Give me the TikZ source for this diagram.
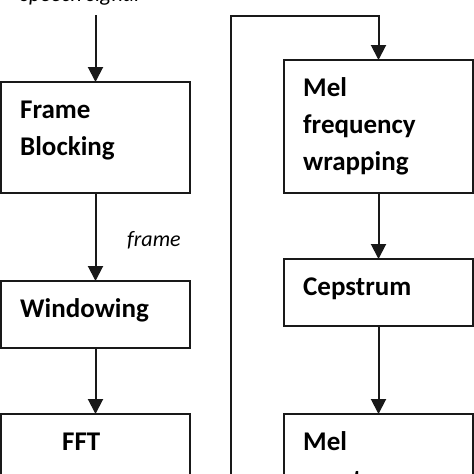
\documentclass[tikz,border=0pt]{standalone}
\usepackage{fontspec}
\setmainfont{Carlito}
\usetikzlibrary{arrows.meta}
\begin{document}
\begin{tikzpicture}[x=1pt,y=-1pt,
  boxst/.style={draw=black!90,line width=2pt,inner sep=0pt,outer sep=0pt,anchor=north west,fill=white},
  lbl/.style={anchor=base west,inner sep=0pt,font=\fontsize{27}{37}\selectfont\bfseries,align=left},
  itl/.style={inner sep=0pt,font=\fontsize{22}{26}\selectfont\itshape},
  arr/.style={line width=2pt,draw=black!90,-{Triangle[width=15pt,length=15pt]}},
  ln/.style={line width=2pt,draw=black!90}]
\useasboundingbox (0,0) rectangle (474,474);
\clip (0,0) rectangle (474,474);
\fill[white] (0,0) rectangle (474,474);
% speech signal label (mostly cropped)
\node[itl,anchor=base] (sig) at (80,1.5) {speech signal};
\coordinate (sigout) at (95.5,15);
% left column boxes
\node[boxst,minimum width=189pt,minimum height=111pt] (fb) at (1,82) {};
\node[boxst,minimum width=189pt,minimum height=67pt] (win) at (1,281) {};
\node[boxst,minimum width=189pt,minimum height=80pt] (fft) at (1,414) {};
% right column boxes
\node[boxst,minimum width=189pt,minimum height=133pt] (mfw) at (284,60) {};
\node[boxst,minimum width=189pt,minimum height=67pt] (cep) at (284,259) {};
\node[boxst,minimum width=189pt,minimum height=80pt] (mel) at (284,414) {};
% labels
\node[lbl] (tfb1) at (20,118) {Frame};
\node[lbl] (tfb2) at (20,155) {Blocking};
\node[lbl] (twin) at (20,317) {Windowing};
\node[lbl] (tfft) at (62,450) {FFT};
\node[lbl] (tm1) at (303,96) {Mel};
\node[lbl] (tm2) at (303,133) {frequency};
\node[lbl] (tm3) at (303,170) {wrapping};
\node[lbl] (tcep) at (303,295) {Cepstrum};
\node[lbl] (tmel1) at (303,450) {Mel};
\node[lbl] (tmel2) at (303,488) {cepstrum};
\node[itl,anchor=base west] (tframe) at (127,246) {frame};
% connectors
\draw[arr] (sigout) -- (fb.north);
\draw[arr] (fb.south) -- (win.north);
\draw[arr] (win.south) -- (fft.north);
\coordinate (loopstart) at (231,480);
\coordinate (looptop) at (231,16);
\draw[arr] (loopstart) -- (looptop) -| (mfw.north);
\draw[arr] (mfw.south) -- (cep.north);
\draw[arr] (cep.south) -- (mel.north);
\end{tikzpicture}
\end{document}
